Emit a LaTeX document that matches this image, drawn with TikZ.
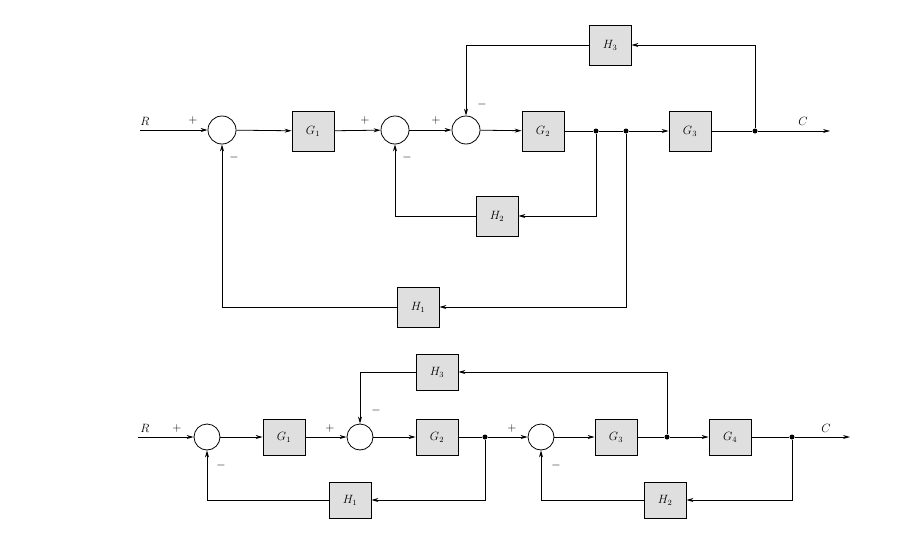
\documentclass[tikz,border=0pt]{standalone}
\usetikzlibrary{arrows.meta}
\begin{document}
\begin{tikzpicture}[x=1pt,y=-1pt,
  blk/.style={draw,fill=gray!25,minimum width=42pt,minimum height=40pt,inner sep=0pt,font=\large\bfseries},
  sblk/.style={blk,minimum height=36pt},
  sum/.style={draw,circle,minimum size=28pt,inner sep=0pt},
  ssum/.style={sum,minimum size=26pt},
  dot/.style={circle,fill,inner sep=0pt,minimum size=5pt},
  sig/.style={font=\large},
  >={Stealth[length=7pt,width=4pt]}, line width=0.8pt]
\useasboundingbox (0,0) rectangle (910,546);
% ---- top ----
\coordinate (r) at (140,130);
\node[sum] (s1) at (222,130) {};
\node[blk] (g1) at (313,131) {$G_1$};
\node[sum] (s2) at (395,130) {};
\node[sum] (s3) at (466,130) {};
\node[blk] (g2) at (543,131) {$G_2$};
\node[dot] (d1) at (596,131) {};
\node[dot] (d2) at (626,131) {};
\node[blk] (g3) at (690,131) {$G_3$};
\node[dot] (d3) at (755,131) {};
\coordinate (c) at (830,131);
\node[blk] (h3) at (610,45) {$H_3$};
\node[blk] (h2) at (497,216) {$H_2$};
\node[blk] (h1) at (418,307) {$H_1$};
\draw[->] (r) -- (s1);
\draw[->] (s1) -- (g1);
\draw[->] (g1) -- (s2);
\draw[->] (s2) -- (s3);
\draw[->] (s3) -- (g2);
\draw (g2) -- (d1) -- (d2);
\draw[->] (d2) -- (g3);
\draw (g3) -- (d3);
\draw[->] (d3) -- (c);
\draw[->] (d3) |- (h3);
\draw[->] (h3) -| (s3);
\draw[->] (d1) |- (h2);
\draw[->] (h2) -| (s2);
\draw[->] (d2) |- (h1);
\draw[->] (h1) -| (s1);
\node[sig] at (145,121) {$R$};
\node[sig] at (803,121) {$C$};
\node[sig] at (193,120) {$+$};
\node[sig] at (234,157) {$-$};
\node[sig] at (365,120) {$+$};
\node[sig] at (407,157) {$-$};
\node[sig] at (436,120) {$+$};
\node[sig] at (482,104) {$-$};
% ---- bottom ----
\coordinate (rb) at (138,437);
\node[ssum] (t1) at (207,437) {};
\node[sblk] (k1) at (284,437) {$G_1$};
\node[ssum] (t2) at (360,437) {};
\node[sblk] (k2) at (437,437) {$G_2$};
\node[dot] (e1) at (485,437) {};
\node[ssum] (t3) at (541,437) {};
\node[sblk] (k3) at (616,437) {$G_3$};
\node[dot] (e2) at (667,437) {};
\node[sblk] (k4) at (730,437) {$G_4$};
\node[dot] (e3) at (792,437) {};
\coordinate (cb) at (850,437);
\node[sblk] (m3) at (437,372) {$H_3$};
\node[sblk] (m1) at (350,500) {$H_1$};
\node[sblk] (m2) at (665,500) {$H_2$};
\draw[->] (rb) -- (t1);
\draw[->] (t1) -- (k1);
\draw[->] (k1) -- (t2);
\draw[->] (t2) -- (k2);
\draw (k2) -- (e1);
\draw[->] (e1) -- (t3);
\draw[->] (t3) -- (k3);
\draw (k3) -- (e2);
\draw[->] (e2) -- (k4);
\draw (k4) -- (e3);
\draw[->] (e3) -- (cb);
\draw[->] (e2) |- (m3);
\draw[->] (m3) -| (t2);
\draw[->] (e1) |- (m1);
\draw[->] (m1) -| (t1);
\draw[->] (e3) |- (m2);
\draw[->] (m2) -| (t3);
\node[sig] at (145,428) {$R$};
\node[sig] at (826,428) {$C$};
\node[sig] at (177,428) {$+$};
\node[sig] at (221,465) {$-$};
\node[sig] at (330,428) {$+$};
\node[sig] at (376,410) {$-$};
\node[sig] at (512,428) {$+$};
\node[sig] at (556,465) {$-$};
\end{tikzpicture}
\end{document}
